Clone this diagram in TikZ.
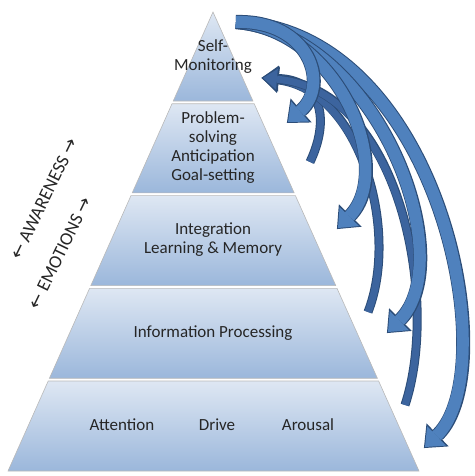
\documentclass[tikz,border=0pt]{standalone}
\usepackage{fontspec}
\setmainfont{Carlito}
\newfontfamily\arr{DejaVu Sans}
\usetikzlibrary{arrows.meta,calc}
\definecolor{lvtop}{RGB}{222,231,243}
\definecolor{lvbot}{RGB}{155,183,219}
\definecolor{arfill}{RGB}{79,129,189}
\definecolor{arline}{RGB}{44,77,120}
\definecolor{arback}{RGB}{60,100,158}
\newcommand\la{{\arr\fontsize{18}{18}\selectfont ←}}
\newcommand\ra{{\arr\fontsize{18}{18}\selectfont →}}
\tikzset{l/.style={draw=gray!55,line width=0.6pt,top color=lvtop,bottom color=lvbot},
            t/.style={font=\fontsize{17}{19}\selectfont,text=black!85,align=center,inner sep=0pt},
            w/.style={font=\fontsize{18.5}{19}\selectfont,text=black!85,rotate=64,inner sep=0pt},
            d/.style={preaction={draw=arline,line width=14pt,shorten >=-1.5pt,-{Triangle[width=32pt,length=19pt,line width=0pt]}},
                      draw=arfill,line width=12pt,-{Triangle[width=27pt,length=16pt,line width=0pt]}},
            u/.style={preaction={draw=arline,line width=9pt,shorten >=-1.5pt,-{Triangle[width=26pt,length=17pt,line width=0pt]}},
                      draw=arback,line width=7pt,-{Triangle[width=21pt,length=14pt,line width=0pt]}}}

\begin{document}
\begin{tikzpicture}[x=1pt,y=-1pt]
\useasboundingbox (0,0) rectangle (474,476);
\coordinate (a) at (213,12);
\coordinate (p) at (8,471);
\coordinate (q) at (419,471);
\path[l] (a) -- ($(a)!0.194!(p)$) -- ($(a)!0.194!(q)$) -- cycle;
\foreach \i/\j in {0.2/0.394,0.4/0.596,0.602/0.798,0.804/1}
  \path[l] ($(a)!\i!(p)$) -- ($(a)!\j!(p)$) -- ($(a)!\j!(q)$) -- ($(a)!\i!(q)$) -- cycle;
\node[t] at (213,57)(1){Self-\\Monitoring};
\node[t] at (213,148)(2){Problem-\\solving\\Anticipation\\Goal-setting};
\node[t] at (213,240)(3){Integration\\Learning \& Memory};
\node[t] at (213,333)(4){Information Processing};
\node[t] at (122,425)(5){Attention};
\node[t] at (217,425)(6){Drive};
\node[t] at (308,425)(7){Arousal};
\node[w] at (44,199)(8){\la\ AWARENESS \ra};
\node[w] at (60,253)(9){\la\ EMOTIONS \ra};
\coordinate (s) at (236,22);
\coordinate (h) at (263,78);
\coordinate (e1) at (288,122);
\coordinate (e2) at (338,228);
\coordinate (e3) at (388,332);
\coordinate (e4) at (425,447);
\coordinate (f1) at (310,162);
\coordinate (f2) at (368,312);
\coordinate (f3) at (405,405);
\draw[u] (f1) .. controls (330,120) and (322,80) .. (h);
\draw[u] (f2) .. controls (400,230) and (360,90) .. (h);
\draw[u] (f3) .. controls (440,300) and (400,90) .. (h);
\draw[d] (s) .. controls (440,30) and (505,370) .. (e4);
\draw[d] (s) .. controls (380,35) and (460,260) .. (e3);
\draw[d] (s) .. controls (340,30) and (395,170) .. (e2);
\draw[d] (s) .. controls (310,20) and (330,85) .. (e1);
\end{tikzpicture}
\end{document}
